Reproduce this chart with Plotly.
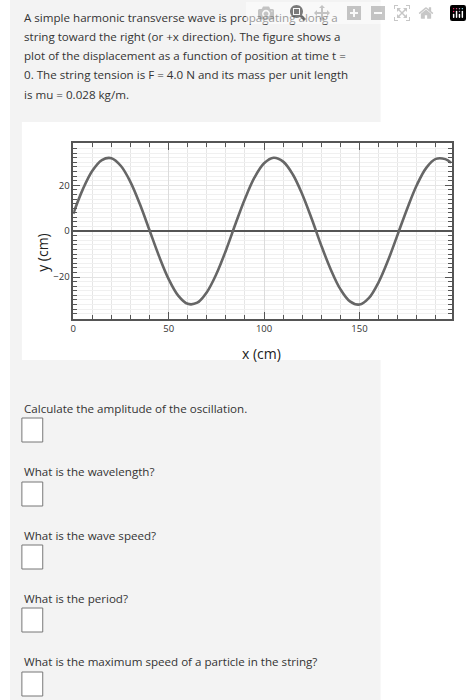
import plotly.graph_objects as go

W, H = 472, 700
x_cm = [0, 5, 10, 15, 20, 25, 30, 35, 40, 45, 50, 55, 60, 65, 70, 75, 80, 85, 90, 95,
        100, 105, 110, 115, 120, 125, 130, 135, 140, 145, 150, 155, 160, 165, 170, 175,
        180, 185, 190, 195, 198]
y_cm = [7.6, 18.2, 26.3, 31.0, 31.8, 28.4, 21.4, 11.6, 0.3, -11.0, -20.9, -28.1, -31.7,
        -31.2, -26.6, -18.7, -8.4, 3.1, 14.1, 23.4, 29.6, 32.0, 30.3, 24.8, 16.1, 5.3,
        -6.3, -16.8, -25.3, -30.6, -32.0, -29.1, -22.3, -12.7, -1.5, 9.8, 20.0, 27.6,
        31.5, 31.4, 29.8]
x_ticks = [0, 50, 100, 150]
y_ticks = [-20, 0, 20]

intro = ["A simple harmonic transverse wave is propagating along a",
         "string toward the right (or +x direction). The figure shows a",
         "plot of the displacement as a function of position at time t =",
         "0. The string tension is F = 4.0 N and its mass per unit length",
         "is mu = 0.028 kg/m."]
intro_y = [18, 37, 56, 75, 94]
questions = ["Calculate the amplitude of the oscillation.",
             "What is the wavelength?",
             "What is the wave speed?",
             "What is the period?",
             "What is the maximum speed of a particle in the string?"]
q_y = [408, 471, 535, 598, 661]
box_y = [418, 482, 545, 608, 672]

def px(x): return x / W
def py(y): return 1 - y / H

fig = go.Figure(go.Scatter(x=x_cm, y=y_cm, mode="lines", line=dict(color="#666", width=2.6, shape="spline"),
                           hoverinfo="skip"))

FONT = "Open Sans, Arial, sans-serif"
shapes = [
    dict(type="rect", xref="paper", yref="paper", x0=px(7), x1=px(380), y0=py(700), y1=py(0),
         fillcolor="#f3f3f3", line=dict(width=0), layer="below"),
    dict(type="rect", xref="paper", yref="paper", x0=px(19), x1=px(472), y0=py(360), y1=py(122),
         fillcolor="white", line=dict(width=0), layer="below"),
]
for by in box_y:
    shapes.append(dict(type="rect", xref="paper", yref="paper", x0=px(19), x1=px(40),
                       y0=py(by + 24), y1=py(by), fillcolor="white",
                       line=dict(color="#777", width=1)))
ann = []
for t, y in zip(intro + questions, intro_y + q_y):
    ann.append(dict(text=t, x=px(19), y=py(y), xref="paper", yref="paper", xanchor="left",
                    yanchor="middle", showarrow=False, font=dict(size=11.6, color="#333", family=FONT)))
ann.append(dict(text="x (cm)", x=px(260), y=py(353), xref="paper", yref="paper", showarrow=False,
                font=dict(size=14, color="#222", family=FONT)))
ann.append(dict(text="y (cm)", x=px(28), y=py(231), xref="paper", yref="paper", showarrow=False,
                textangle=-90, font=dict(size=14, color="#222", family=FONT)))

fig.update_layout(
    width=W, height=H, margin=dict(l=0, r=0, t=0, b=0),
    paper_bgcolor="white", plot_bgcolor="white", showlegend=False,
    shapes=shapes, annotations=ann,
    xaxis=dict(domain=[px(70.7), px(451.7)], range=[0, 198.4], tickvals=x_ticks,
               ticks="inside", ticklen=7, tickcolor="#555", mirror="ticks", showline=True,
               linecolor="#555", linewidth=1.5, showgrid=True, gridcolor="#dcdcdc", zeroline=False,
               minor=dict(dtick=10, ticks="inside", ticklen=4, tickcolor="#555", showgrid=True,
                          gridcolor="#e6e6e6"),
               tickfont=dict(size=9.5, color="#333", family=FONT)),
    yaxis=dict(domain=[py(319), py(143.3)], range=[-38.3, 38.3], tickvals=y_ticks,
               ticks="inside", ticklen=7, tickcolor="#555", mirror="ticks", showline=True,
               linecolor="#555", linewidth=1.5, showgrid=True, gridcolor="#e4e4e4",
               zeroline=True, zerolinecolor="#555", zerolinewidth=1.5,
               minor=dict(dtick=2, ticks="inside", ticklen=4, tickcolor="#555", showgrid=True,
                          gridcolor="#f0f0f0"),
               tickfont=dict(size=9.5, color="#333", family=FONT)),
)
fig.write_html("out.html", post_script="document.body.style.margin='0';")
